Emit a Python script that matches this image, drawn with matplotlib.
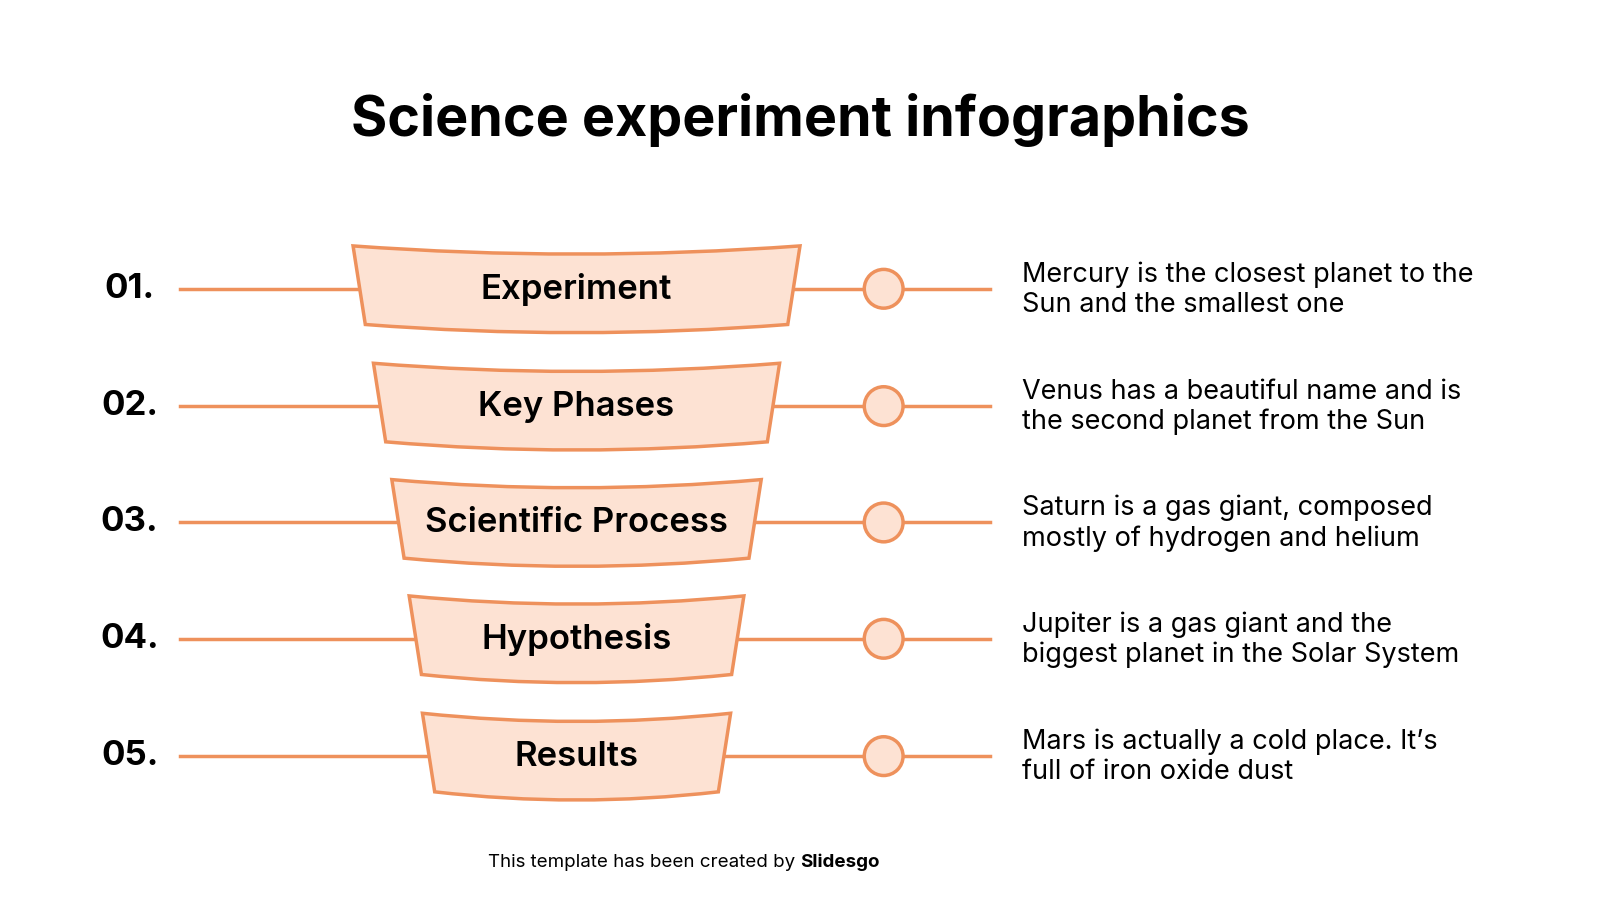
import matplotlib
matplotlib.use("Agg")
import matplotlib.pyplot as plt
from matplotlib.path import Path
from matplotlib.patches import PathPatch, Circle

numbers = ["01.", "02.", "03.", "04.", "05."]
labels = ["Experiment", "Key Phases", "Scientific Process", "Hypothesis", "Results"]
descriptions = [
    "Mercury is the closest planet to the\nSun and the smallest one",
    "Venus has a beautiful name and is\nthe second planet from the Sun",
    "Saturn is a gas giant, composed\nmostly of hydrogen and helium",
    "Jupiter is a gas giant and the\nbiggest planet in the Solar System",
    "Mars is actually a cold place. It\u2019s\nfull of iron oxide dust",
]

# layout (pixels on a 1568x882 canvas)
row_y = [283, 398, 512, 626, 741]
top_half = [219, 199, 181, 164, 151]
cx = 565
ORANGE = "#EE915C"
FILL = "#FDE2D3"
FONT = ["Inter", "DejaVu Sans"]

fig = plt.figure(figsize=(16, 9), dpi=100)
ax = fig.add_axes([0, 0, 1, 1])
ax.set_xlim(0, 1568)
ax.set_ylim(882, 0)
ax.axis("off")

ax.text(784, 118, "Science experiment infographics", ha="center", va="center",
        fontsize=40, fontweight="bold", family=FONT)

for i, y in enumerate(row_y):
    tw = top_half[i]
    bw = tw - 12
    yt, yb = y - 42, y + 35
    verts = [(cx - tw, yt), (cx, yt + 16), (cx + tw, yt),
             (cx + bw, yb), (cx, yb + 16), (cx - bw, yb), (cx - tw, yt)]
    codes = [Path.MOVETO, Path.CURVE3, Path.CURVE3, Path.LINETO,
             Path.CURVE3, Path.CURVE3, Path.CLOSEPOLY]
    ax.plot([176, cx - tw + 6], [y, y], color=ORANGE, lw=2.5, zorder=1)
    ax.plot([cx + tw - 6, 970], [y, y], color=ORANGE, lw=2.5, zorder=1)
    ax.add_patch(PathPatch(Path(verts, codes), facecolor=FILL, edgecolor=ORANGE,
                           lw=2.5, zorder=2))
    ax.add_patch(Circle((866, y), 19, facecolor=FILL, edgecolor=ORANGE, lw=2.5, zorder=3))
    ax.text(127, y, numbers[i], ha="center", va="center", fontsize=25,
            fontweight="bold", family=FONT)
    ax.text(cx, y + 1, labels[i], ha="center", va="center", fontsize=25,
            fontweight="semibold", family=FONT)
    ax.text(1002, y + 1, descriptions[i], ha="left", va="center", fontsize=19.5,
            family=FONT, linespacing=1.2)

ax.text(784, 845, "This template has been created by ", ha="right", va="center",
        fontsize=13.5, family=FONT)
ax.text(784, 845, "Slidesgo", ha="left", va="center", fontsize=13.5,
        fontweight="bold", family=FONT)

fig.savefig("out.png", dpi=100, facecolor="white")
